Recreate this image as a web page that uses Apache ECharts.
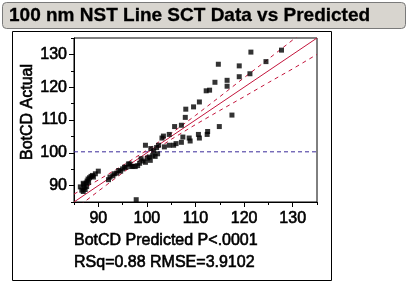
<!DOCTYPE html>
<html>
<head>
<meta charset="utf-8">
<script src="https://cdn.jsdelivr.net/npm/echarts@6/dist/echarts.min.js"></script>
<style>
  html, body { margin: 0; padding: 0; background: #fff; }
  #chart { width: 408px; height: 283px; }
</style>
</head>
<body>
<div id="chart"></div>
<script>
// predicted / actual pairs
var predicted = [
  86.3, 86.6, 86.9, 87.1, 87.0, 87.3, 87.5, 87.7, 87.9, 88.2, 88.0, 88.5, 88.8, 89.0, 89.4, 90.0, 87.6, 86.9,
  92.1, 92.4, 93.0, 93.3, 93.8, 94.2, 94.6, 95.0, 95.4, 95.7, 96.2, 96.5, 96.7, 97.1, 97.6, 98.1, 98.5, 98.8,
  99.2, 99.7, 100.1, 100.5, 100.7, 101.2, 101.7, 102.2, 99.7, 100.8, 101.4, 102.0, 102.4, 97.8,
  103.1, 103.4, 103.6, 104.6, 104.6, 105.5, 105.7, 106.0, 107.1, 107.1, 107.4, 107.9, 108.0, 108.7, 108.9,
  109.6, 110.6, 110.8, 110.8, 112.2, 112.9, 112.4, 112.5, 114.0, 114.7, 114.9, 116.5, 116.5, 117.5, 119.0,
  119.0, 121.2, 121.4, 124.5, 127.7
]
var actual = [
  89.6, 88.6, 88.2, 89.4, 90.3, 88.8, 90.8, 91.4, 92.0, 92.4, 91.0, 92.8, 93.1, 92.6, 93.6, 94.4, 89.7, 90.7,
  91.8, 92.6, 93.0, 93.6, 93.8, 94.6, 94.4, 95.1, 95.6, 95.6, 96.6, 96.6, 95.8, 95.9, 95.8, 96.1, 96.8, 98.2,
  97.5, 97.1, 98.4, 98.7, 97.7, 99.2, 98.9, 99.7, 102.3, 101.3, 100.6, 101.6, 102.3, 85.7,
  104.5, 105.1, 101.8, 105.6, 102.3, 102.3, 108.0, 102.8, 103.2, 108.4, 104.8, 110.8, 113.3, 104.5, 103.6,
  114.0, 105.6, 104.5, 115.5, 118.9, 119.1, 105.6, 106.5, 121.5, 127.0, 108.0, 122.1, 120.3, 111.5, 126.5,
  123.2, 124.1, 130.7, 127.8, 131.3
]

// fit line and its confidence curves
var fitX = [85, 135]
var fitY = [85, 135]
var bandX = [85, 90, 95, 100, 105, 110, 115, 120, 125, 130, 135]
var bandUpper = [87.4, 91.7, 96.1, 100.8, 105.9, 111.4, 117.1, 122.9, 128.6, 134.4, 140.0]
var bandLower = [82.6, 88.3, 93.9, 99.2, 104.1, 108.6, 112.9, 117.1, 121.4, 125.6, 130.0]
var meanActual = 100.3

var xLabels = [90, 100, 110, 120, 130]
var yLabels = [90, 100, 110, 120, 130]

function pairs(xs, ys) {
  var out = []
  for (var i = 0; i < xs.length; i++) out.push([xs[i], ys[i]])
  return out
}

var font = 'Liberation Sans, Arial, sans-serif'
var red = '#c3153c'
var chart = echarts.init(document.getElementById('chart'), null, { renderer: 'canvas' })

// plain labels look thin next to the original, so give them a hairline outline
var heavy = { textBorderColor: '#000', textBorderWidth: 0.6 }

function axisPair(dim) {
  var labels = dim === 'x' ? xLabels : yLabels
  var main = {
    type: 'value',
    min: 85,
    max: 135,
    interval: 5,
    position: dim === 'x' ? 'bottom' : 'left',
    axisLine: { show: true, lineStyle: { color: '#000', width: 1 } },
    axisTick: { show: true, inside: false, length: 3, lineStyle: { color: '#000' } },
    axisLabel: Object.assign({
      show: true,
      margin: dim === 'x' ? 9 : 7,
      color: '#000',
      fontFamily: font,
      fontSize: 16,
      formatter: function(v) {
        return labels.indexOf(v) >= 0 ? String(v) : ''
      }
    }, heavy),
    splitLine: { show: false }
  }
  var major = {
    type: 'value',
    min: 85,
    max: 135,
    position: dim === 'x' ? 'bottom' : 'left',
    axisLine: { show: false },
    axisTick: { show: true, length: 5, customValues: labels, lineStyle: { color: '#000' } },
    axisLabel: { show: false },
    splitLine: { show: false }
  }
  return [main, major]
}

function label(text, x, y, extra) {
  return Object.assign({
    type: 'text',
    x: x,
    y: y,
    style: Object.assign({ text: text, fill: '#000', font: '16px ' + font, verticalAlign: 'middle', stroke: '#000', lineWidth: 0.6 }, extra || {})
  })
}

var yName = label('BotCD Actual', 28, 112, { align: 'center' })
yName.rotation = Math.PI / 2

chart.setOption({
  animation: false,
  backgroundColor: '#fff',
  grid: {
    left: 74,
    top: 38,
    right: 91,
    bottom: 81,
    show: true,
    borderColor: '#000',
    borderWidth: 1,
    backgroundColor: '#fff'
  },
  xAxis: axisPair('x'),
  yAxis: axisPair('y'),
  graphic: [
    {
      type: 'rect',
      z: -10,
      shape: { x: 2.5, y: 2.5, width: 403, height: 26, r: 4 },
      style: { fill: '#d8d5cf', stroke: '#7a7a7a', lineWidth: 1 }
    },
    label('100 nm NST Line SCT Data vs Predicted', 9, 16, { font: 'bold 19px ' + font, lineWidth: 0.3 }),
    {
      type: 'rect',
      z: -10,
      shape: { x: 12.5, y: 31.5, width: 319, height: 249 },
      style: { fill: '#fff', stroke: '#000', lineWidth: 1 }
    },
    yName,
    label('BotCD Predicted P<.0001', 74, 241),
    label('RSq=0.88 RMSE=3.9102', 74, 263)
  ],
  series: [
    {
      type: 'line',
      data: [[85, meanActual], [135, meanActual]],
      symbol: 'none',
      lineStyle: { color: '#3a2a9a', width: 1, type: [4, 3] },
      z: 1
    },
    {
      type: 'line',
      data: pairs(bandX, bandUpper),
      symbol: 'none',
      clip: true,
      lineStyle: { color: red, width: 1, type: [4, 4] },
      z: 2
    },
    {
      type: 'line',
      data: pairs(bandX, bandLower),
      symbol: 'none',
      clip: true,
      lineStyle: { color: red, width: 1, type: [4, 4] },
      z: 2
    },
    {
      type: 'line',
      data: pairs(fitX, fitY),
      symbol: 'none',
      lineStyle: { color: red, width: 1 },
      z: 2
    },
    {
      type: 'scatter',
      data: pairs(predicted, actual),
      symbol: 'rect',
      symbolSize: 5,
      itemStyle: { color: '#000' },
      z: 3
    }
  ]
})
</script>
</body>
</html>
